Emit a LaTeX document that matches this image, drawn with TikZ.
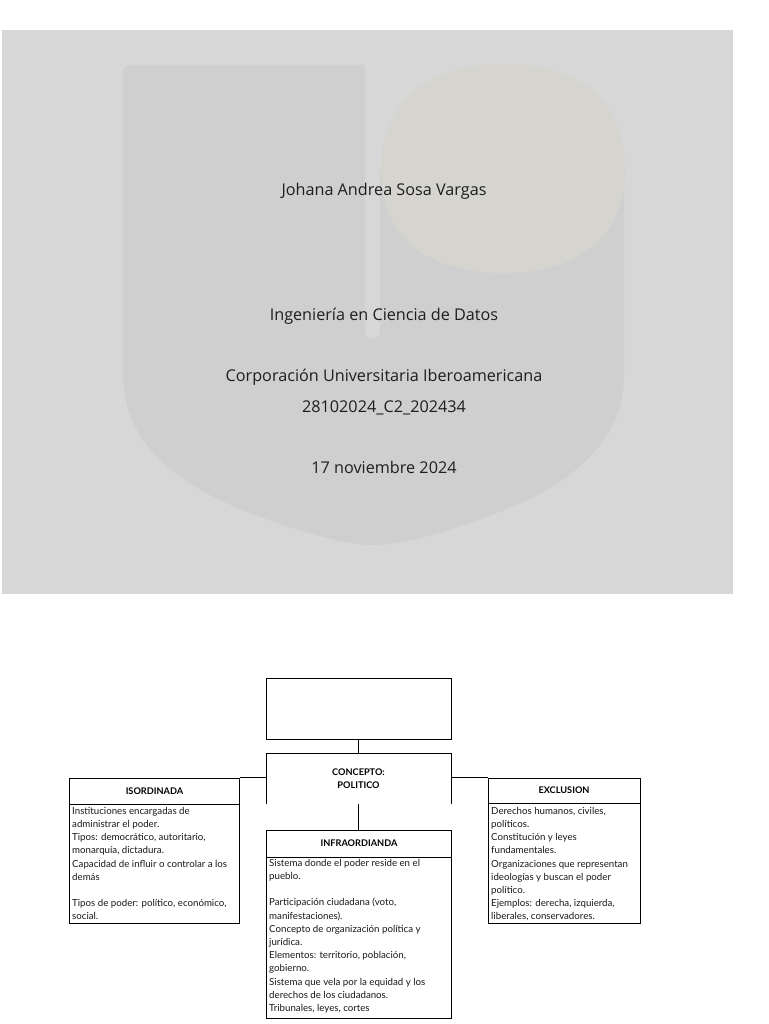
\documentclass[tikz,border=0pt]{standalone}
\usepackage{fontspec}
\setmainfont{Lato}
\newfontfamily\coverfont{Open Sans}
\definecolor{banner}{HTML}{D7D7D7}
\definecolor{shield}{HTML}{CFCFCF}
\definecolor{disc}{HTML}{D5D4CF}
\definecolor{ink}{HTML}{1E1E1E}
\tikzset{
  x=1pt,y=-1pt,
  cover/.style={font=\coverfont\fontsize{16.2}{19}\selectfont,text=ink,inner sep=0pt,anchor=base},
  framebox/.style={draw=black,line width=0.9pt,inner sep=0pt,fill=white},
  head/.style={inner sep=0pt,font=\bfseries\fontsize{9.2}{13}\selectfont,align=center,text=black},
  body/.style={inner sep=0pt,anchor=north west,align=left,font=\fontsize{9.7}{13.2}\selectfont,text=black!90},
  link/.style={draw=black,line width=0.9pt}
}
\begin{document}
\begin{tikzpicture}
\useasboundingbox (0,0) rectangle (768,1024);
\fill[white] (0,0) rectangle (768,1024);
\fill[banner] (2,30) rectangle (733,594);
% shield
\fill[shield] (123,72) .. controls (123,67) and (126,65) .. (131,65) -- (365,65) -- (365,330)
  .. controls (365,336) and (368,339) .. (372.5,339) .. controls (377,339) and (380,336) .. (380,330)
  -- (380,170) -- (624,170) -- (624,375)
  .. controls (624,450) and (557,490) .. (497,513)
  .. controls (447,532) and (402,545) .. (373.5,545)
  .. controls (345,545) and (300,532) .. (250,513)
  .. controls (190,490) and (123,450) .. (123,375) -- cycle;
\fill[disc] (504,64) .. controls (590,64) and (625,110) .. (625,170)
  .. controls (625,235) and (580,273) .. (504,273)
  .. controls (425,273) and (381,235) .. (381,170)
  .. controls (381,110) and (420,64) .. (504,64) -- cycle;
\node[cover] (name) at (384,196) {Johana Andrea Sosa Vargas};
\node[cover] (prog) at (384,320) {Ingeniería en Ciencia de Datos};
\node[cover] (univ) at (384,381) {Corporación Universitaria Iberoamericana};
\node[cover] (code) at (384,412) {28102024\_C2\_202434};
\node[cover] (date) at (384,473) {17 noviembre 2024};
% diagram
\node[framebox,minimum width=185pt,minimum height=61pt] (top) at (359,708.5) {};
\node[inner sep=0pt,minimum width=185pt,minimum height=50pt] (conc) at (359,778.5) {};
\draw[link] (conc.south west) -- (conc.north west) -- (conc.north east) -- (conc.south east);
\node[head] (conctext) at (358.5,779) {CONCEPTO:\\POLITICO};
% left
\node[framebox,minimum width=170.5pt,minimum height=145pt] (isobox) at (154.5,850.5) {};
\node[inner sep=0pt,minimum width=170.5pt,minimum height=26pt] (isohead) at (154.5,791) {};
\draw[link] (isohead.south west) -- (isohead.south east);
\node[head] at (isohead.center) {ISORDINADA};
\node[body] (isobody) at (72,807) {Instituciones encargadas de\\administrar el poder.\\Tipos: democrático, autoritario,\\monarquía, dictadura.\\Capacidad de influir o controlar a los\\demás\\[13.2pt]Tipos de poder: político, económico,\\social.};
% centre
\node[framebox,minimum width=185pt,minimum height=188pt] (infbox) at (359,924) {};
\node[inner sep=0pt,minimum width=185pt,minimum height=27pt] (infhead) at (359,843.5) {};
\draw[link] (infhead.south west) -- (infhead.south east);
\node[head] at (infhead.center) {INFRAORDIANDA};
\node[body] (infbody) at (269,859) {Sistema donde el poder reside en el\\pueblo.\\[13.2pt]Participación ciudadana (voto,\\manifestaciones).\\Concepto de organización política y\\jurídica.\\Elementos: territorio, población,\\gobierno.\\Sistema que vela por la equidad y los\\derechos de los ciudadanos.\\Tribunales, leyes, cortes};
% right
\node[framebox,minimum width=152pt,minimum height=145pt] (excbox) at (564,850.5) {};
\node[inner sep=0pt,minimum width=152pt,minimum height=25pt] (exchead) at (564,790.5) {};
\draw[link] (exchead.south west) -- (exchead.south east);
\node[head] at (exchead.center) {EXCLUSION};
\node[body] (excbody) at (491,807) {Derechos humanos, civiles,\\políticos.\\Constitución y leyes\\fundamentales.\\Organizaciones que representan\\ideologías y buscan el poder\\político.\\Ejemplos: derecha, izquierda,\\liberales, conservadores.};
% connectors
\draw[link] (top.south) ++(-1,0) coordinate (a) -- (a |- conc.north);
\draw[link] (infbox.north) ++(-1,0) coordinate (b) -- (b |- conc.south);
\draw[link] (isobox.north east) -- (isobox.north east -| conc.west);
\draw[link] (excbox.north west) -- (excbox.north west -| conc.east);
\end{tikzpicture}
\end{document}
